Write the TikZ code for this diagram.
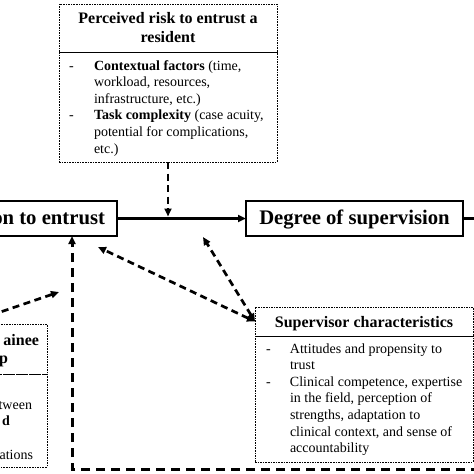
\documentclass[tikz,border=0pt]{standalone}
\usepackage{fontspec}
\setmainfont{Liberation Serif}
\usetikzlibrary{arrows.meta}
\newcommand{\mainsz}{\fontsize{20.7}{24}\selectfont\bfseries}
\newcommand{\titlesz}{\fontsize{16}{19}\selectfont\bfseries}
\newcommand{\bodysz}{\fontsize{14}{16.6}\selectfont}
\begin{document}
\begin{tikzpicture}[x=1pt,y=-1pt,
  frame/.style={draw, line width=0.9pt, dash pattern=on 1.6pt off 1pt, inner sep=0pt, outer sep=0pt},
  mainbox/.style={draw, line width=1.5pt, inner sep=0pt, outer sep=0pt},
  txt/.style={inner sep=0pt, outer sep=0pt},
  mainline/.style={line width=2.5pt, -{Triangle[length=8pt,width=7pt]}},
  plainline/.style={line width=2.5pt},
  dasharrow/.style={line width=2.7pt, dash pattern=on 7pt off 4.5pt, -{Triangle[length=8pt,width=7pt]}},
  dashboth/.style={line width=2.7pt, dash pattern=on 7pt off 4.5pt, {Triangle[length=8pt,width=7pt]}-{Triangle[length=8pt,width=7pt]}},
  bigdash/.style={line width=3pt, dash pattern=on 9pt off 6pt, -{Triangle[length=8pt,width=7pt]}}]
\useasboundingbox (0,0) rectangle (474,474);
\fill[white] (0,0) rectangle (474,474);

% Perceived risk box
\node[frame, minimum width=218pt, minimum height=48pt] (riskhead) at (168,28) {};
\node[frame, minimum width=218pt, minimum height=110pt] (riskbody) at (168,107) {};
\node[txt, anchor=base] (risktitle) at (168,23) {\titlesz\begin{tabular}[t]{@{}c@{}}Perceived risk to entrust a\\resident\end{tabular}};
\node[txt, anchor=base west] (risktext) at (69,70) {\bodysz\begin{tabular}[t]{@{}p{25pt}@{}l@{}}
-&\textbf{Contextual factors} (time,\\
 &workload, resources,\\
 &infrastructure, etc.)\\
-&\textbf{Task complexity} (case acuity,\\
 &potential for complications,\\
 &etc.)
\end{tabular}};

% Decision box (cut at left)
\node[mainbox, minimum width=247pt, minimum height=35pt] (decision) at (-6.5,218.5) {};
\node[txt, anchor=base east] (decisiontext) at (105,224) {\mainsz on to entrust};

% Degree of supervision
\node[mainbox, minimum width=217pt, minimum height=35pt] (degree) at (354.5,218.5) {};
\node[txt, anchor=base] (degreetext) at (354.5,224) {\mainsz Degree of supervision};

% Trainee box (cut at left)
\node[frame, minimum width=197pt, minimum height=50pt] (trainhead) at (-51.5,349) {};
\node[frame, minimum width=197pt, minimum height=93pt] (trainbody) at (-51.5,420.5) {};
\node[txt, anchor=base east] (traint1) at (39,345) {\titlesz ainee};
\node[txt, anchor=base east] (traint2) at (8,363) {\titlesz p};
\node[txt, anchor=base east] (trainb1) at (32,409) {\bodysz tween};
\node[txt, anchor=base east] (trainb2) at (10,425.5) {\bodysz\bfseries d};
\node[txt, anchor=base east] (trainb3) at (33,459) {\bodysz ations};

% Supervisor box
\node[frame, minimum width=218pt, minimum height=29pt] (superhead) at (364,321.5) {};
\node[frame, minimum width=218pt, minimum height=126pt] (superbody) at (364,399) {};
\node[txt, anchor=base] (supertitle) at (364,327.5) {\titlesz Supervisor characteristics};
\node[txt, anchor=base west] (supertext) at (266,353) {\bodysz\begin{tabular}[t]{@{}p{24pt}@{}l@{}}
-&Attitudes and propensity to\\
 &trust\\
-&Clinical competence, expertise\\
 &in the field, perception of\\
 &strengths, adaptation to\\
 &clinical context, and sense of\\
 &accountability
\end{tabular}};

% Connectors
\coordinate (rightend) at (480,218.5);
\coordinate (junction) at (168,216.5);
\coordinate (ptA) at (98,247);
\coordinate (ptB) at (203,237);
\coordinate (leftstart) at (-20,319);
\coordinate (ptC) at (59,292);
\coordinate (bottomright) at (480,469);
\coordinate (corner) at (72,469);

\draw[mainline] (decision.east) -- (degree.west);
\draw[plainline] (degree.east) -- (rightend);
\draw[dasharrow] (riskbody.south) -- (junction);
\draw[dashboth] (superhead.west) -- (ptA);
\draw[dashboth] (superhead.west) -- (ptB);
\draw[dasharrow] (leftstart) -- (ptC);
\draw[bigdash] (bottomright) -- (corner) -- (corner |- decision.south);
\end{tikzpicture}
\end{document}
